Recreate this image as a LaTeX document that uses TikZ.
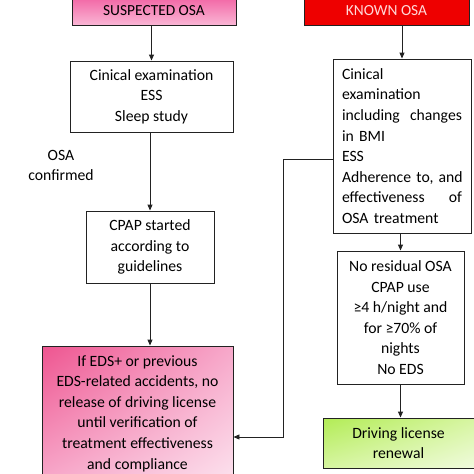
\documentclass[tikz,border=0pt]{standalone}
\usepackage{fontspec}
\setmainfont{Carlito}
\usetikzlibrary{arrows.meta,shadings}
\definecolor{pinkA}{HTML}{EE5590}
\definecolor{pinkB}{HTML}{F7A8CA}
\definecolor{pinkC}{HTML}{FCE2EE}
\definecolor{susTop}{HTML}{F264A4}
\definecolor{susBot}{HTML}{FAB6D5}
\definecolor{knownRed}{HTML}{EE0000}
\definecolor{knownTxt}{HTML}{FFD8D8}
\definecolor{grA}{HTML}{B2EC55}
\definecolor{grB}{HTML}{D6F5A0}
\definecolor{grC}{HTML}{F0FBDD}
\definecolor{lineC}{HTML}{222222}
\tikzset{
  txt/.style={font=\fontsize{15.7}{20.6}\selectfont},
  box/.style={draw=lineC, line width=0.9pt, rectangle, inner sep=0pt, align=center, txt},
  topbox/.style={box, font=\fontsize{15.4}{18}\selectfont},
  conn/.style={draw=lineC, line width=0.9pt},
  arr/.style={conn, -{Triangle[length=6pt,width=5pt]}},
}
\begin{document}
\begin{tikzpicture}[x=1pt,y=-1pt]
\useasboundingbox (0,0) rectangle (474,474);
% top boxes
\node[topbox, top color=susTop, bottom color=susBot, minimum width=164pt, minimum height=28pt] (sus) at (154,11) {SUSPECTED OSA};
\node[topbox, fill=knownRed, text=knownTxt, minimum width=165pt, minimum height=28pt] (known) at (386.5,11) {KNOWN OSA};
% left column
\node[box, fill=white, minimum width=163pt, minimum height=71pt] (clin) at (151.5,96.5) {Cinical examination\\ESS\\Sleep study};
\node[box, fill=white, minimum width=128pt, minimum height=72pt] (cpap) at (150,247) {CPAP started\\according to\\guidelines};
\node[box, upper left=pinkA, upper right=pinkB, lower left=pinkB, lower right=pinkC, minimum width=191pt, minimum height=135pt] (nolic) at (137.5,413.5)
  {If EDS+ or previous\\EDS-related accidents, no\\release of driving license\\until verification of\\treatment effectiveness\\and compliance};
\node[align=center, txt, inner sep=0pt] (conf) at (61,165.5) {OSA\\confirmed};
% right column
\node[box, fill=white, minimum width=138pt, minimum height=174pt, text width=120pt, align=left] (rclin) at (402,146)
  {Cinical\\examination\\including\hfill changes\\in BMI\\ESS\\\mbox{Adherence to, and}\\effectiveness\hfill of\\OSA treatment};
\node[box, fill=white, minimum width=127pt, minimum height=133pt] (nores) at (400.5,317.5)
  {No residual OSA\\CPAP use\\≥4 h/night and\\for ≥70\% of\\nights\\No EDS};
\node[box, upper left=grA, upper right=grB, lower left=grB, lower right=grC, minimum width=151pt, minimum height=50pt] (renew) at (398.5,443)
  {Driving license\\renewal};
% connectors
\draw[arr] (sus.south -| clin.north) -- (clin.north);
\draw[arr] (clin.south -| cpap.north) -- (cpap.north);
\draw[arr] (cpap.south) -- (cpap.south |- nolic.north);
\draw[arr] (known.south -| rclin.north) -- (rclin.north);
\draw[arr] (rclin.south -| nores.north) -- (nores.north);
\draw[arr] (nores.south) -- (nores.south |- renew.north);
\coordinate (t1) at (283,159);
\coordinate (t2) at (283,437);
\draw[arr] (t1 -| rclin.west) -- (t1) -- (t2) -- (t2 -| nolic.east);
\end{tikzpicture}
\end{document}
